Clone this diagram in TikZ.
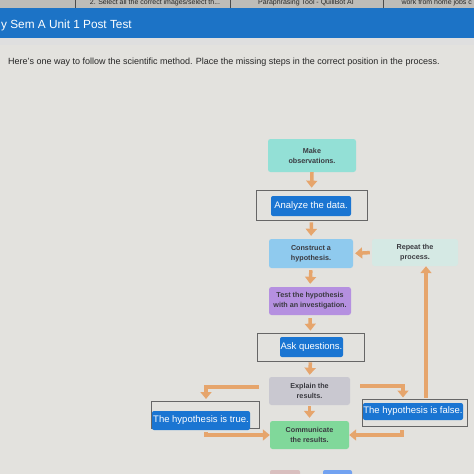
\documentclass[tikz,border=0pt]{standalone}
\usepackage{fontspec}
\setmainfont{Liberation Sans}
\usetikzlibrary{arrows.meta,calc}
\definecolor{bg}{HTML}{E3E2DE}
\definecolor{tabbg}{HTML}{BDBCB8}
\definecolor{titlebl}{HTML}{1C73C6}
\definecolor{orng}{HTML}{E6A56C}
\definecolor{teal}{HTML}{93E0D6}
\definecolor{ltblue}{HTML}{8FCAEE}
\definecolor{repc}{HTML}{D5E9E4}
\definecolor{purp}{HTML}{B590E0}
\definecolor{grayb}{HTML}{C9C8D0}
\definecolor{greenb}{HTML}{80D89A}
\definecolor{chipbl}{HTML}{1A75D2}
\definecolor{txt}{HTML}{3A3A40}
\tikzset{
  stepbox/.style={rounded corners=2.5pt, minimum width=#1, align=center, inner sep=1pt,
    font=\bfseries\fontsize{7.2}{10}\selectfont, text=txt},
  zone/.style={draw=gray!80!black, line width=0.7pt, minimum width=#1, inner sep=0pt},
  chip/.style={fill=chipbl, rounded corners=2pt, text=white, inner sep=0pt,
    font=\fontsize{9.5}{10}\selectfont, minimum width=#1},
  oarrow/.style={draw=orng, line width=3.5pt, -{Triangle[width=11pt,length=7pt]}},
}
\begin{document}
\begin{tikzpicture}[x=1pt,y=-1pt]
\useasboundingbox (0,0) rectangle (474,474);
% background
\fill[bg] (0,0) rectangle (474,474);
% tab bar
\begin{scope}
\clip (0,0) rectangle (474,8);
\fill[tabbg] (0,0) rectangle (474,8);
\draw[gray!60!black, line width=0.5pt] (75,0) -- (75,8) (230,0) -- (230,8) (383,0) -- (383,8);
\node[anchor=base, font=\fontsize{7}{8}\selectfont, text=gray!30!black] (tab1) at (155,4.5) {2. Select all the correct images/select th...};
\node[anchor=base, font=\fontsize{7}{8}\selectfont, text=gray!30!black] (tab2) at (306,4.5) {Paraphrasing Tool - QuillBot AI};
\node[anchor=base west, font=\fontsize{7}{8}\selectfont, text=gray!30!black] (tab3) at (398,4.5) {work from home jobs c};
\end{scope}
% title bar
\fill[titlebl] (0,8) rectangle (474,38);
\fill[gray!25] (0,38) rectangle (474,45);
\node[anchor=base west, text=white, font=\fontsize{11.8}{14}\selectfont, inner sep=0pt] (title) at (1,28) {y Sem A Unit 1 Post Test};
% instruction
\node[anchor=base west, inner sep=0pt, font=\fontsize{9}{10}\selectfont, text=black!85] (instr) at (8,64)
  {Here's one way to follow the scientific method. Place the missing steps in the correct position in the process.};

% nodes
\node[stepbox=88pt, minimum height=33pt, fill=teal] (make) at (312,155.5) {Make\\observations.};
\node[zone=111pt, minimum height=30pt] (aout) at (311.5,205) {};
\node[chip=80pt, minimum height=20pt] (analyze) at (311,206) {Analyze the data.};
\node[stepbox=84pt, minimum height=29pt, fill=ltblue] (construct) at (311,253.5) {Construct a\\hypothesis.};
\node[stepbox=86pt, minimum height=27pt, fill=repc] (repeat) at (415,252.5) {Repeat the\\process.};
\node[stepbox=82pt, minimum height=28pt, fill=purp] (test) at (310,301) {Test the hypothesis\\with an investigation.};
\node[zone=107pt, minimum height=28pt] (qout) at (310.5,347) {};
\node[chip=63pt, minimum height=20pt] (ask) at (311.5,347) {Ask questions.};
\node[stepbox=81pt, minimum height=28pt, fill=grayb] (explain) at (309.5,391) {Explain the\\results.};
\node[stepbox=79pt, minimum height=28pt, fill=greenb] (comm) at (309.5,435) {Communicate\\the results.};
\node[zone=108pt, minimum height=27pt] (tout) at (205,414.5) {};
\node[chip=98pt, minimum height=19pt] (true) at (201,420.5) {The hypothesis is true.};
\node[zone=105pt, minimum height=27pt] (fout) at (414.5,412.5) {};
\node[chip=100pt, minimum height=17pt] (false) at (413,411.5) {The hypothesis is false.};
% partial boxes at bottom
\fill[red!25!gray!40, rounded corners=2pt] (270,470) rectangle (300,480);
\fill[ltblue!80!blue, rounded corners=2pt] (323,470) rectangle (352,480);

% straight arrows
\draw[oarrow, shorten <=0pt, shorten >=2pt] (make.south) -- (aout.north);
\draw[oarrow, shorten <=2pt, shorten >=3pt] (aout.south) -- (construct.north);
\draw[oarrow, shorten <=2pt, shorten >=3pt] (construct.south) -- (test.north);
\draw[oarrow, shorten <=3pt, shorten >=2pt] (test.south) -- (qout.north);
\draw[oarrow, shorten <=1pt, shorten >=2pt] (qout.south) -- (explain.north);
\draw[oarrow, shorten <=1pt, shorten >=3pt] (explain.south) -- (comm.north);
\draw[oarrow, shorten <=2pt, shorten >=2pt] (repeat.west) -- (construct.east);

% elbow arrows
\coordinate (ls) at (259,387);
\coordinate (le) at (206,399);
\draw[oarrow] (ls) -| (le);
\coordinate (rs) at (360,386);
\coordinate (re) at (403,397.5);
\draw[oarrow] (rs) -| (re);
\coordinate (lb) at (206,432);
\draw[oarrow] (lb) |- (comm.west);
\coordinate (rb) at (402,430);
\draw[oarrow] (rb) |- (comm.east);
\coordinate (up) at (426,398);
\draw[oarrow] (up) -- (up |- repeat.south);
\end{tikzpicture}
\end{document}
